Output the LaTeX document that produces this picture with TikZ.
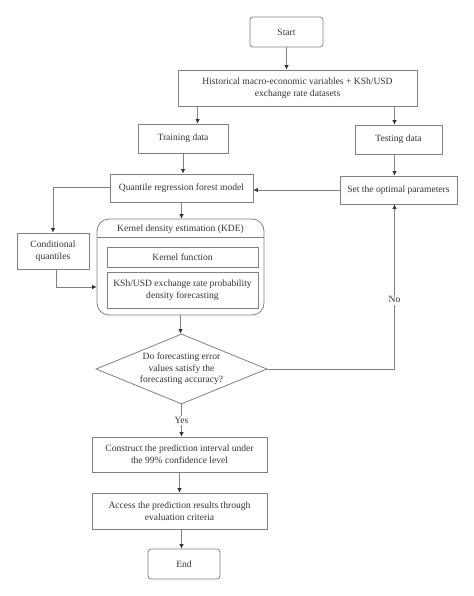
\documentclass[tikz,border=0pt]{standalone}
\usepackage{fontspec}
\setmainfont{Liberation Serif}
\usetikzlibrary{shapes.geometric,arrows.meta,calc}
\definecolor{linec}{HTML}{808080}
\definecolor{textc}{HTML}{333333}
\begin{document}
\begin{tikzpicture}[x=1bp,y=-1bp,
  every node/.style={text=textc,font=\fontsize{9.6}{11.7}\selectfont,align=center,inner sep=0pt},
  box/.style={draw=linec,line width=0.8pt,minimum width=#1},
  rbox/.style={draw=linec,line width=0.8pt,rounded corners=3bp},
  conn/.style={draw=linec,line width=0.8pt,-{Latex[length=4.5bp,width=4.5bp,fill=black!80,color=black!80]}},
  plainline/.style={draw=linec,line width=0.8pt}]
\useasboundingbox (0,0) rectangle (474,596);
\node[rbox,minimum width=73bp,minimum height=30bp] (start) at (286.5,32) {Start};
\node[box=239bp,minimum height=36bp] (hist) at (297.5,88) {Historical macro-economic variables + KSh/USD\\exchange rate datasets};
\node[box=90bp,minimum height=29bp] (train) at (183,138.5) {Training data};
\node[box=87bp,minimum height=29bp] (test) at (398.5,139.5) {Testing data};
\node[box=143bp,minimum height=28bp] (quant) at (181.5,188) {Quantile regression forest model};
\node[box=117bp,minimum height=28bp] (set) at (398.5,190) {Set the optimal parameters};
\node[box=72bp,minimum height=36bp] (cond) at (53,251) {Conditional\\quantiles};
\node[draw=linec,line width=0.8pt,rounded corners=12bp,minimum width=167bp,minimum height=96bp] (kde) at (180.5,267) {};
\coordinate (hl) at ($(kde.north west)+(0,19)$);
\coordinate (hr) at ($(kde.north east)+(0,19)$);
\draw[plainline] (hl) -- (hr);
\node (kdet) at ($(kde.north)+(0,10.5)$) {Kernel density estimation (KDE)};
\node[box=151bp,minimum height=20bp] (kfun) at (182.5,257) {Kernel function};
\node[box=151bp,minimum height=36bp] (ksh) at (182.5,290) {KSh/USD exchange rate probability\\density forecasting};
\node[draw=linec,line width=0.8pt,diamond,shape aspect=2.44,minimum width=171bp,minimum height=70bp] (dia) at (181.5,369) {Do forecasting error\\values satisfy the\\forecasting accuracy?};
\node[box=175bp,minimum height=35bp] (cons) at (179.5,454.5) {Construct the prediction interval under\\the 99\% confidence level};
\node[box=175bp,minimum height=36bp] (acc) at (179.5,511) {Access the prediction results through\\evaluation criteria};
\node[rbox,minimum width=72bp,minimum height=30bp] (end) at (184,564) {End};

\draw[conn] (start) -- (start |- hist.north);
\draw[conn] ([xshift=20bp]hist.south west) -- ([xshift=20bp]hist.south west |- train.north);
\draw[conn] ([xshift=-4bp]test.north |- hist.south) -- ([xshift=-4bp]test.north);
\draw[conn] (train) -- (train |- quant.north);
\draw[conn] ([xshift=-4bp]test.south) -- ([xshift=-4bp]test.south |- set.north);
\draw[conn] (set.west) -- (set.west -| quant.east);
\draw[conn] ([yshift=1bp]quant.west) -| (cond.north);
\draw[conn] ([xshift=3bp]cond.south) |- ([yshift=-20bp]kde.west);
\draw[conn] (quant.south) -- (quant.south |- kde.north);
\draw[conn] (kde.south) -- (kde.south |- dia.north);
\draw[conn] (dia.east) -| node[pos=0.71,fill=white,inner sep=1.5pt] {No} ([xshift=-4bp]set.south);
\draw[conn] (dia.south) -- node[midway,fill=white,inner sep=1.5pt] {Yes} (dia.south |- cons.north);
\draw[conn] (cons) -- (cons |- acc.north);
\draw[conn] ([xshift=2bp]acc.south) -- ([xshift=2bp]acc.south |- end.north);
\end{tikzpicture}
\end{document}
